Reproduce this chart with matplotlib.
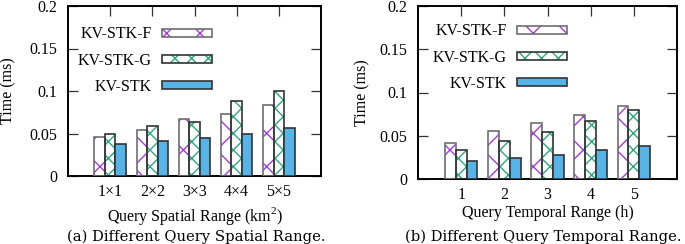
# Query time vs spatial / temporal range, grouped hatched bars

import numpy as np
import matplotlib
matplotlib.use('Agg')
import matplotlib.pyplot as plt
from matplotlib.patches import Patch
from matplotlib.legend_handler import HandlerTuple
from matplotlib.ticker import FuncFormatter

plt.rcParams['font.family'] = 'Liberation Serif'
plt.rcParams['mathtext.fontset'] = 'custom'
plt.rcParams['mathtext.rm'] = 'Liberation Serif'
plt.rcParams['hatch.linewidth'] = 1.0

# Data
series = ['KV-STK-F', 'KV-STK-G', 'KV-STK']
spatial_labels = ['1×1', '2×2', '3×3', '4×4', '5×5']
spatial_f = [0.046, 0.054, 0.067, 0.073, 0.084]
spatial_g = [0.049, 0.059, 0.064, 0.088, 0.100]
spatial_stk = [0.038, 0.041, 0.045, 0.049, 0.057]

temporal_labels = ['1', '2', '3', '4', '5']
temporal_f = [0.042, 0.055, 0.065, 0.074, 0.084]
temporal_g = [0.034, 0.044, 0.054, 0.067, 0.080]
temporal_stk = [0.021, 0.024, 0.028, 0.033, 0.038]

# styles
hatch_col = ['#a43be0', '#2aa880', None]
edge_col = ['#6e6e6e', '#333333', '#333333']
face_col = ['white', 'white', '#56b4e9']
hatches = ['x', 'xx', '']
fs = 11.5


def draw_panel(ax, labels, vals, xlabel, ylab_x, xlab_y, leg_xy):
    x = np.arange(1, len(labels) + 1)
    w = 0.25
    for i, v in enumerate(vals):
        pos = x + (i - 1) * w
        if hatches[i]:
            ax.bar(pos, v, w, color=face_col[i], edgecolor=hatch_col[i],
                   hatch=hatches[i], linewidth=0, zorder=2)
            ax.bar(pos, v, w, color='none', edgecolor=edge_col[i],
                   linewidth=1.2, zorder=3)
        else:
            ax.bar(pos, v, w, color=face_col[i], edgecolor=edge_col[i],
                   linewidth=1.2, zorder=3)

    ax.set_xlim(0, 6)
    ax.set_ylim(0, 0.2)
    ax.set_xticks(x)
    ax.set_xticklabels(labels)
    ax.set_yticks([0, 0.05, 0.1, 0.15, 0.2])
    ax.yaxis.set_major_formatter(FuncFormatter(lambda v, p: f'{v:g}'))
    ax.tick_params(direction='in', length=7.5, width=0.9, top=True,
                   right=True, labelsize=fs, color='#333333')
    ax.tick_params(axis='y', pad=8)
    ax.tick_params(axis='x', pad=6)
    for s in ax.spines.values():
        s.set_linewidth(1.4)

    ax.set_ylabel('Time (ms)', fontsize=fs)
    ax.yaxis.set_label_coords(ylab_x, 0.5)
    ax.yaxis.label.set_va('center')
    ax.set_xlabel(xlabel, fontsize=fs)
    ax.xaxis.set_label_coords(0.5, xlab_y)
    ax.xaxis.label.set_va('center')

    handles = []
    for i in range(3):
        if hatches[i]:
            handles.append((Patch(facecolor='white', edgecolor=hatch_col[i],
                                  hatch=hatches[i], linewidth=0),
                            Patch(facecolor='none', edgecolor=edge_col[i],
                                  linewidth=1.2)))
        else:
            handles.append(Patch(facecolor=face_col[i], edgecolor=edge_col[i],
                                 linewidth=1.2))
    ax.legend(handles, series, handler_map={tuple: HandlerTuple(ndivide=1, pad=0)},
              loc='upper right', bbox_to_anchor=leg_xy, frameon=False,
              markerfirst=False, fontsize=fs, handlelength=3.1,
              handleheight=0.4, handletextpad=0.65, labelspacing=0.65,
              borderpad=0, borderaxespad=0)


fig = plt.figure(figsize=(6.85, 2.44), dpi=100)
ax1 = fig.add_axes([68 / 685, 68 / 244, 253 / 685, 170 / 244])
ax2 = fig.add_axes([418 / 685, 65 / 244, 259 / 685, 173 / 244])

draw_panel(ax1, spatial_labels, [spatial_f, spatial_g, spatial_stk],
           r'Query Spatial Range (km$^2$)', -0.235, -0.235, (0.569, 0.88))
draw_panel(ax2, temporal_labels, [temporal_f, temporal_g, temporal_stk],
           'Query Temporal Range (h)', -0.216, -0.195, (0.575, 0.9))

fig.text(196 / 685, 1 - 237 / 244, '(a) Different Query Spatial Range.',
         ha='center', va='center', family='DejaVu Serif', fontsize=10.6)
fig.text(543 / 685, 1 - 237 / 244, '(b) Different Query Temporal Range.',
         ha='center', va='center', family='DejaVu Serif', fontsize=10.6)

fig.savefig('out.png', dpi=100)
